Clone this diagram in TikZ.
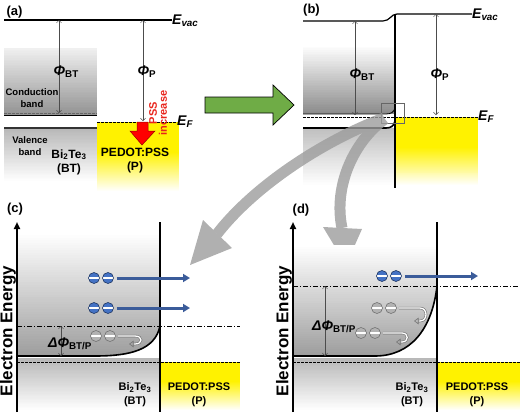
\documentclass[tikz,border=0pt]{standalone}
\usepackage{fontspec}
\setmainfont{Liberation Sans}
\usetikzlibrary{arrows.meta}
\definecolor{agreen}{HTML}{6FAC46}
\definecolor{eblue}{HTML}{4472C4}
\definecolor{edark}{HTML}{203864}
\definecolor{ablue}{HTML}{3B5C9A}
\definecolor{bigarr}{HTML}{9C9C9C}
\definecolor{pssred}{HTML}{E8231B}
% vertical gradient made of thin strips: x0 y0 x1 y1 topcolor bottomcolor steps
\newcommand{\vgrad}[7]{%
  \colorlet{gradtop}{#5}\colorlet{gradbot}{#6}%
  \foreach \gi in {1,...,#7}{%
    \pgfmathsetmacro{\gt}{(\gi-1)/(#7-1)*100}%
    \pgfmathsetmacro{\gya}{#2+(#4-#2)*(\gi-1)/#7}%
    \pgfmathsetmacro{\gyb}{min(#2+(#4-#2)*\gi/#7+0.6,#4)}%
    \fill[gradbot!\gt!gradtop] (#1,\gya) rectangle (#3,\gyb);
  }}
\begin{document}
\begin{tikzpicture}[x=1pt,y=-1pt,
  txt/.style={inner sep=0pt, align=center, font=\fontsize{12}{14}\selectfont\bfseries},
  txtc/.style={inner sep=0pt, align=center, font=\fontsize{11}{14}\selectfont\bfseries},
  small/.style={inner sep=0pt, align=center, font=\fontsize{9.5}{11.5}\selectfont\bfseries},
  panel/.style={inner sep=0pt, font=\fontsize{13}{15}\selectfont\bfseries},
  philbl/.style={inner sep=0pt, anchor=west, font=\fontsize{14}{16}\selectfont\bfseries},
  lvl/.style={inner sep=0pt, anchor=west, font=\fontsize{14}{16}\selectfont\bfseries\itshape},
  philine/.style={draw=black!70, line width=0.5pt, {Straight Barb[length=2.5pt,width=5pt]}-{Straight Barb[length=2.5pt,width=5pt]}},
  vacline/.style={line width=1.2pt},
  iface/.style={line width=2.5pt},
  eaxisline/.style={line width=2pt, -{Triangle[length=7pt,width=6pt]}},
  band/.style={line width=1.6pt},
  efline/.style={line width=0.7pt, dash pattern=on 2.5pt off 1.5pt},
  dashdot/.style={line width=0.5pt, dash pattern=on 5pt off 2pt on 1pt off 2pt},
  elec/.style={circle, minimum size=11pt, inner sep=0pt, fill=eblue, draw=edark, line width=0.6pt,
    path picture={\fill[white] ([yshift=-0.8pt]path picture bounding box.west) rectangle ([yshift=0.8pt]path picture bounding box.east);}},
  gelec/.style={elec, fill=black!30, draw=black!55},
  barrow/.style={draw=ablue, line width=3pt, -{Triangle[length=7pt,width=8pt]}},
  rarrow/.style={draw=black!55, double=white, double distance=1.3pt, line width=0.6pt, -{Triangle[open,length=4.5pt,width=6.5pt]}},
  eaxis/.style={inner sep=0pt, rotate=90, font=\fontsize{17}{19}\selectfont\bfseries},
  bigarrow/.style={draw=bigarr, line width=11pt},
]
\useasboundingbox (0,0) rectangle (520,416);

% ---------------- panel (a)
\vgrad{4}{48}{97}{115}{black!6}{black!42}{40}
\vgrad{4}{128}{97}{182}{black!28}{white}{40}
\fill[yellow] (97,122) rectangle (179,152);
\vgrad{97}{151.5}{179}{192}{yellow}{white}{40}
\draw[efline, draw=black!60] (4,113) -- (97,113);
\draw[line width=0.8pt] (4,115) -- (97,115);
\draw[band, draw=black!80] (4,128) -- (97,128);
\draw[efline] (97,122) -- (177,122);
\draw[vacline] (4,20) -- (172,20);
\node[lvl] (evaca) at (172,21) {E\textsubscript{vac}};
\node[lvl] (efa) at (177,122) {E\textsubscript{F}};
\draw[philine] (59,20) -- (59,113);
\draw[philine] (143,20) -- (143,121);
\node[philbl] (phibta) at (53.5,72) {{\itshape Φ}\textsubscript{BT}};
\node[philbl] (phipa) at (137.5,72) {{\itshape Φ}\textsubscript{P}};
\node[small] (cba) at (32,98) {Conduction\\band};
\node[small] (vba) at (30,146) {Valence\\band};
\node[txt] (bta) at (69,162) {Bi\textsubscript{2}Te\textsubscript{3}\\(BT)};
\node[txt] (pa) at (135,161) {PEDOT:PSS\\(P)};
\filldraw[fill=red, draw=red!60!black, line width=0.5pt] (137,122) -- (148,122) -- (148,131) -- (155,131) -- (142,145) -- (130,131) -- (137,131) -- cycle;
\node[inner sep=0pt, rotate=90, align=center, text=pssred, font=\fontsize{11}{10}\selectfont\bfseries] (pss) at (158,113) {PSS\\increase};
\node[panel] (la) at (14.5,12) {(a)};

% ---------------- green arrow
\filldraw[fill=agreen, draw=black, line width=0.7pt] (205,97) -- (273,97) -- (273,85) -- (294,105) -- (273,125) -- (273,113) -- (205,113) -- cycle;

% ---------------- panel (b)
\vgrad{303}{45}{395}{114}{white}{black!45}{40}
\vgrad{303}{128}{395}{186}{black!25}{white}{40}
\fill[yellow] (396,117) rectangle (478,148);
\vgrad{396}{147.5}{478}{186}{yellow}{white}{40}
\draw[line width=0.8pt] (303,114) -- (386,114) .. controls (391,114) and (394,112) .. (395,108);
\draw[band] (303,128) -- (386,128) .. controls (391,128) and (394,126) .. (395,121);
\draw[efline] (303,117) -- (478,117);
\draw[vacline] (303,21) -- (383,21) .. controls (390,21) and (391,14) .. (397,14) -- (472,14);
\draw[iface] (395,14) -- (395,188);
\draw[philine] (355,21) -- (355,115);
\draw[philine] (436,14) -- (436,115);
\node[philbl] (phibtb) at (349.5,75) {{\itshape Φ}\textsubscript{BT}};
\node[philbl] (phipb) at (430.5,75) {{\itshape Φ}\textsubscript{P}};
\node[lvl] (evacb) at (472,15) {E\textsubscript{vac}};
\node[lvl] (efb) at (478,117) {E\textsubscript{F}};
\draw[black!60, line width=0.5pt] (381,103) rectangle (404,123);
\node[panel] (lb) at (311.5,10) {(b)};

% ---------------- big curved arrows
\begin{scope}[transparency group, opacity=0.8]
\draw[bigarrow] (384,118) .. controls (325,140) and (255,185) .. (217,234);
\fill[bigarr] (203,220) -- (232,248) -- (190,265) -- cycle;
\draw[bigarrow] (385,119) .. controls (355,140) and (333,185) .. (342,228);
\fill[bigarr] (323,227) -- (362,229) -- (346,265) -- cycle;
\end{scope}

% ---------------- panel (c)
\begin{scope}
\clip (17,233) -- (160,233) -- (160,326) .. controls (155,350) and (130,356) .. (95,356) -- (17,356) -- cycle;
\vgrad{17}{233}{160}{356}{white}{black!38}{50}
\end{scope}
\vgrad{17}{358}{160}{411}{black!28}{white}{40}
\fill[yellow] (161,362) rectangle (240,382);
\vgrad{161}{381.5}{240}{411}{yellow}{white}{30}
\draw[dashdot] (17,326) -- (240,326);
\draw[efline] (17,362) -- (240,362);
\draw[band] (17,356) -- (95,356) .. controls (130,356) and (155,350) .. (160,326);
\draw[eaxisline] (17,412) -- (17,222);
\draw[iface] (160,222) -- (160,412);
\draw[philine] (61,326) -- (61,356);
\node[philbl] (dphic) at (48,344) {{\itshape ΔΦ}\textsubscript{BT/P}};
\node[elec] (c1a) at (94,278) {};
\node[elec] (c1b) at (108,278) {};
\coordinate (c1e) at (190,278);
\draw[barrow] ([xshift=3pt]c1b.east) -- (c1e);
\node[elec] (c2a) at (94,308) {};
\node[elec] (c2b) at (108,308) {};
\coordinate (c2e) at (190,308);
\draw[barrow] ([xshift=3pt]c2b.east) -- (c2e);
\node[gelec] (c3a) at (96,336) {};
\node[gelec] (c3b) at (110,336) {};
\coordinate (c3t) at (129,344);
\draw[rarrow] ([xshift=2pt]c3b.east) -- (135,336) .. controls (143,336) and (143,344) .. (135,344) -- (c3t);
\node[eaxis] (eec) at (8,331) {Electron Energy};
\node[txtc] (btc) at (135,395) {Bi\textsubscript{2}Te\textsubscript{3}\\(BT)};
\node[txtc] (pc) at (199,395) {PEDOT:PSS\\(P)};
\node[panel] (lc) at (15,209) {(c)};

% ---------------- panel (d)
\begin{scope}
\clip (293,245) -- (437,245) -- (437,286) .. controls (432,330) and (410,356) .. (375,356) -- (293,356) -- cycle;
\vgrad{293}{245}{437}{356}{white}{black!38}{50}
\end{scope}
\vgrad{293}{358}{437}{411}{black!28}{white}{40}
\fill[yellow] (438,362) rectangle (520,382);
\vgrad{438}{381.5}{520}{411}{yellow}{white}{30}
\draw[dashdot] (293,286) -- (520,286);
\draw[efline] (293,362) -- (520,362);
\draw[band] (293,356) -- (375,356) .. controls (410,356) and (432,330) .. (437,286);
\draw[eaxisline] (293,412) -- (293,222);
\draw[iface] (437,222) -- (437,412);
\draw[philine] (325,286) -- (325,356);
\node[philbl] (dphid) at (312,327) {{\itshape ΔΦ}\textsubscript{BT/P}};
\node[elec] (d1a) at (382,276) {};
\node[elec] (d1b) at (396,276) {};
\coordinate (d1e) at (478,276);
\draw[barrow] ([xshift=3pt]d1b.east) -- (d1e);
\node[gelec] (d2a) at (377,308) {};
\node[gelec] (d2b) at (391,308) {};
\coordinate (d2t) at (414,321);
\draw[rarrow] ([xshift=2pt]d2b.east) -- (420,308) .. controls (428,308) and (428,321) .. (420,321) -- (d2t);
\node[gelec] (d3a) at (361,333) {};
\node[gelec] (d3b) at (375,333) {};
\coordinate (d3t) at (396,342);
\draw[rarrow] ([xshift=2pt]d3b.east) -- (402,333) .. controls (409,333) and (409,342) .. (402,342) -- (d3t);
\node[eaxis] (eed) at (284,331) {Electron Energy};
\node[txtc] (btd) at (412,395) {Bi\textsubscript{2}Te\textsubscript{3}\\(BT)};
\node[txtc] (pd) at (477,395) {PEDOT:PSS\\(P)};
\node[panel] (ld) at (301,210) {(d)};
\end{tikzpicture}
\end{document}
